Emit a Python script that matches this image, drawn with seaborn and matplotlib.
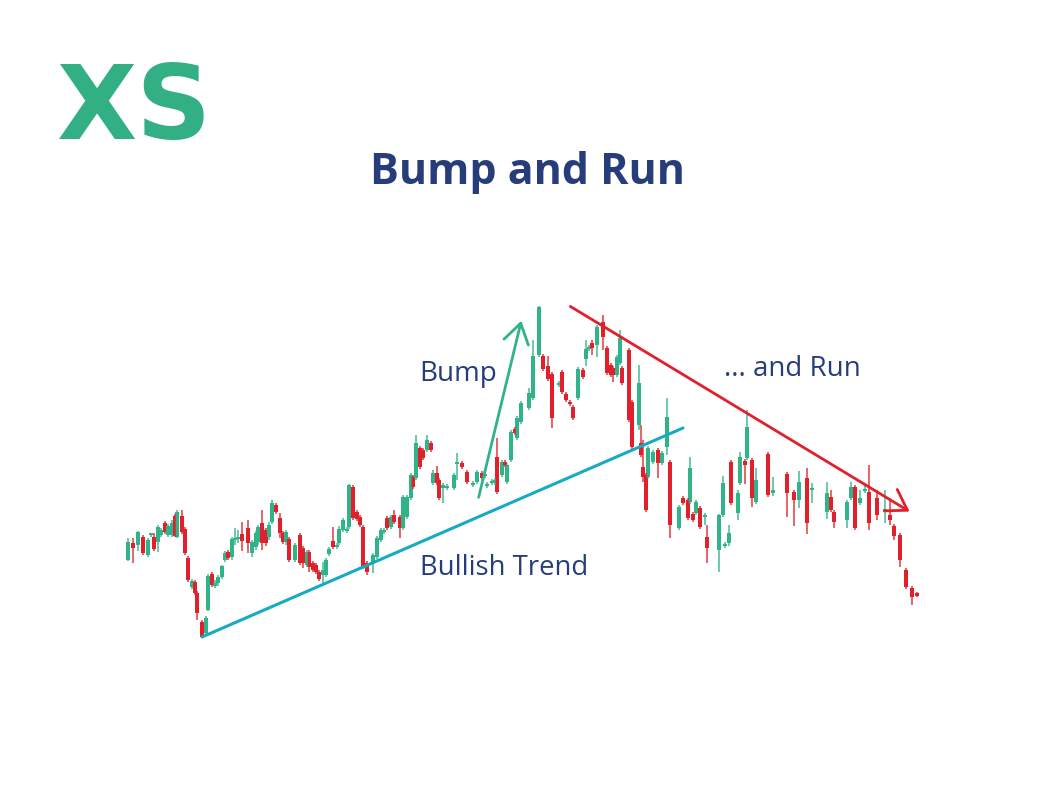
import matplotlib
matplotlib.use("Agg")
import matplotlib.pyplot as plt
import pandas as pd
import seaborn as sns

# session number and OHLC prices
t = [0, 5, 10, 15, 20, 23, 26, 30, 33, 37, 40, 44, 47, 49, 54, 57, 60, 64, 67, 69, 74, 78, 80, 84, 87, 90, 94, 97, 100, 104, 107, 110, 114, 120,
     124, 128, 130, 134, 138, 141, 144, 148, 152, 155, 158, 161, 167, 172, 175, 179, 181, 185, 188, 191, 195, 198, 201, 205, 209, 211, 215, 219, 221, 225, 229, 232, 235, 239,
     245, 249, 253, 256, 259, 263, 266, 272, 275, 279, 283, 285, 288, 292, 295, 299, 303, 305, 309, 311, 315, 319, 326, 329, 334, 339,
     345, 349, 354, 357, 359, 364, 367, 369, 374, 377, 379, 383, 387, 389, 393, 401, 405, 411, 415, 420, 424, 431, 434, 438, 442, 445, 450, 455, 458, 461, 464, 469,
     475, 479, 483, 485, 489, 492, 494, 501, 504, 511, 513, 515, 518, 520, 525, 530, 534, 539, 542, 551, 555, 560, 562, 565, 568, 572, 577, 579, 591,
     595, 597, 601, 603, 610, 612, 617, 619, 624, 628, 640, 645, 659, 666, 671, 679, 684,
     699, 703, 706, 719, 723, 727, 732, 737, 741, 749, 757, 762, 766, 772, 778, 784, 789]

open_ = [140, 157, 155, 163, 145, 165, 163, 158, 165, 177, 165, 165, 184, 163, 184, 171, 142, 113, 118, 107, 78, 67, 90, 126, 114, 117, 123, 140, 148, 143, 160, 161, 166, 172,
         147, 153, 158, 177, 170, 163, 178, 195, 182, 167, 158, 161, 140, 165, 152, 135, 148, 137, 135, 128, 125, 125, 146, 159, 153, 157, 170, 169, 173, 213, 188, 183, 173, 137,
         137, 143, 160, 168, 182, 173, 185, 183, 172, 183, 202, 223, 222, 252, 250, 250, 257, 217, 227, 220, 212, 212, 212, 236, 237, 228,
         215, 218, 227, 224, 214, 217, 217, 243, 225, 238, 218, 240, 271, 262, 278, 292, 302, 345, 344, 334, 326, 315, 328, 306, 298, 293, 302, 330, 341, 351, 357, 355,
         378, 352, 335, 332, 325, 337, 332, 350, 298, 275, 257, 233, 225, 223, 238, 250, 237, 253, 238, 172, 202, 200, 198, 186, 187, 192, 183, 163, 150,
         185, 154, 157, 238, 187, 217, 239, 242, 240, 198, 246, 207, 226, 208, 200, 222, 210,
         188, 203, 188, 180, 202, 213, 197, 209, 208, 202, 189, 185, 174, 165, 130, 112, 107]

close = [158, 152, 168, 147, 160, 166, 151, 173, 170, 168, 174, 177, 164, 188, 168, 147, 120, 119, 107, 87, 63, 82, 124, 115, 117, 123, 134, 147, 142, 161, 162, 163, 159, 157,
         158, 167, 173, 157, 157, 175, 197, 188, 167, 158, 168, 140, 155, 137, 137, 148, 133, 130, 128, 121, 130, 140, 151, 153, 155, 171, 180, 171, 215, 182, 181, 175, 133, 128,
         145, 162, 170, 170, 172, 183, 178, 172, 203, 203, 225, 213, 257, 233, 242, 260, 250, 227, 217, 202, 215, 214, 225, 237, 233, 218,
         217, 228, 222, 226, 216, 219, 220, 208, 238, 235, 235, 268, 267, 282, 297, 307, 344, 393, 331, 321, 282, 317, 308, 300, 296, 282, 331, 323, 351, 353, 352, 373,
         363, 327, 325, 325, 343, 362, 317, 280, 253, 317, 245, 223, 190, 252, 248, 237, 247, 283, 175, 193, 197, 182, 232, 180, 198, 173, 185, 152, 185,
         217, 156, 167, 197, 207, 243, 235, 273, 202, 220, 205, 210, 207, 200, 218, 177, 212,
         207, 190, 178, 198, 213, 172, 202, 210, 177, 185, 191, 180, 164, 140, 113, 103, 104]

high = [162, 162, 169, 165, 162, 167, 167, 175, 172, 179, 176, 180, 186, 190, 190, 173, 144, 121, 120, 109, 80, 84, 126, 128, 120, 125, 135, 149, 150, 163, 172, 170, 178, 180,
        160, 169, 175, 190, 172, 178, 200, 197, 187, 169, 170, 163, 157, 167, 154, 150, 150, 139, 137, 130, 138, 142, 153, 173, 157, 174, 182, 173, 216, 215, 190, 185, 175, 139,
        147, 164, 172, 172, 184, 185, 190, 185, 205, 205, 227, 225, 265, 254, 252, 265, 259, 230, 234, 222, 217, 216, 227, 247, 239, 230,
        219, 230, 229, 228, 218, 221, 222, 262, 240, 240, 237, 270, 273, 284, 299, 312, 360, 394, 346, 344, 328, 319, 330, 308, 300, 295, 333, 332, 360, 355, 360, 375,
        385, 354, 337, 334, 345, 370, 334, 352, 300, 335, 275, 260, 227, 254, 250, 252, 249, 302, 240, 195, 204, 202, 243, 188, 200, 194, 187, 175, 186,
        224, 158, 175, 240, 210, 248, 241, 290, 242, 232, 248, 223, 228, 210, 229, 232, 217,
        218, 210, 190, 200, 218, 215, 210, 217, 235, 210, 210, 200, 176, 167, 132, 114, 108]

low = [139, 137, 149, 145, 143, 163, 149, 148, 163, 166, 163, 163, 163, 162, 166, 145, 118, 111, 105, 80, 63, 65, 89, 113, 112, 114, 121, 138, 140, 140, 155, 157, 149, 147,
       143, 150, 155, 150, 154, 160, 176, 186, 162, 156, 155, 138, 138, 135, 132, 133, 128, 128, 126, 119, 117, 123, 144, 151, 151, 155, 168, 167, 171, 180, 179, 173, 131, 125,
       127, 141, 158, 166, 170, 171, 176, 162, 170, 181, 200, 211, 220, 231, 240, 248, 248, 215, 215, 200, 197, 210, 210, 220, 231, 216,
       213, 216, 220, 222, 212, 215, 215, 206, 223, 233, 216, 238, 265, 260, 276, 290, 300, 343, 329, 319, 272, 313, 306, 298, 294, 280, 300, 321, 334, 349, 345, 343,
       350, 325, 323, 318, 323, 335, 315, 278, 251, 270, 243, 218, 188, 221, 236, 222, 235, 245, 162, 170, 195, 180, 196, 178, 185, 171, 175, 137, 128,
       183, 152, 154, 195, 180, 215, 216, 240, 193, 196, 203, 204, 183, 174, 192, 166, 197,
       181, 188, 172, 172, 200, 170, 195, 207, 170, 180, 177, 175, 160, 133, 111, 95, 103]

# annotation lines (session, price)
trend_t = [74, 555]
trend_p = [63, 272]
bump_t = [350, 394]
bump_p = [200, 382]
run_t = [440, 784]
run_p = [395, 187]

GREEN = "#2fb388"
RED = "#e1202b"
CYAN = "#16abc4"
NAVY = "#263d7a"

sns.set_theme(style="white")
plt.rcParams["font.family"] = ["Open Sans", "DejaVu Sans"]

df = pd.DataFrame({"t": t, "open": open_, "close": close, "high": high, "low": low})
df["up"] = df["close"] >= df["open"]
df["color"] = df["up"].map({True: GREEN, False: RED})
df["bottom"] = df[["open", "close"]].min(axis=1)
df["body"] = (df["close"] - df["open"]).abs().clip(lower=2.5)

W, H = 1056, 787
fig = plt.figure(figsize=(W / 100, H / 100), dpi=100)
ax = fig.add_axes([118 / W, 1 - 650 / H, 810 / W, 360 / H])

# wicks and bodies
ax.vlines(df["t"], df["low"], df["high"], colors=df["color"], linewidth=1.4, alpha=0.7)
ax.bar(df["t"], df["body"], bottom=df["bottom"], width=4.6, color=df["color"], linewidth=0)

# bullish trendline
sns.lineplot(x=trend_t, y=trend_p, ax=ax, color=CYAN, linewidth=2.2)

# bump and run arrows
ax.annotate("", xy=(bump_t[1], bump_p[1]), xytext=(bump_t[0], bump_p[0]),
            arrowprops=dict(arrowstyle="->,head_length=0.7,head_width=0.45", color=GREEN, lw=2, mutation_scale=20))
ax.annotate("", xy=(run_t[1], run_p[1]), xytext=(run_t[0], run_p[0]),
            arrowprops=dict(arrowstyle="->,head_length=0.7,head_width=0.45", color=RED, lw=2, mutation_scale=20))

ax.text(330, 326, "Bump", color=NAVY, fontsize=20, ha="center", va="center")
ax.text(664, 331, "... and Run", color=NAVY, fontsize=20, ha="center", va="center")
ax.text(376, 132, "Bullish Trend", color=NAVY, fontsize=19.8, ha="center", va="center")

ax.set_xlim(-10, 800)
ax.set_ylim(50, 410)
ax.set_axis_off()

fig.text(0.5, 1 - 172 / H, "Bump and Run", color=NAVY, fontsize=31, fontweight="bold",
         ha="center", va="center")
fig.text(56 / W, 1 - 139 / H, "XS", color="#33b083", fontsize=75, fontweight="heavy",
         family=["DejaVu Sans"], ha="left", va="baseline")

fig.savefig("out.png", dpi=100)
